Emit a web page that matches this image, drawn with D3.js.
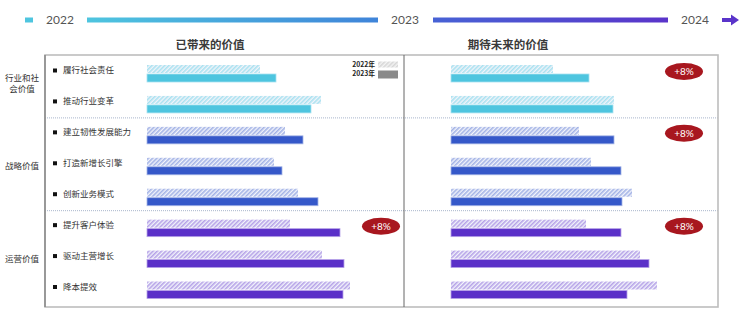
<!DOCTYPE html>
<html>
<head>
<meta charset="utf-8">
<script src="https://cdn.jsdelivr.net/npm/d3@7/dist/d3.min.js"></script>
<style>
  html, body { margin: 0; padding: 0; background: #fff; }
  svg { display: block; }
  text { font-family: "Noto Sans CJK SC", "Noto Sans", sans-serif; }
</style>
</head>
<body>
<script>
// ---- data ----
const years = ["2022", "2023", "2024"];
const panels = ["已带来的价值", "期待未来的价值"];
const groups = [
  { name: ["行业和社", "会价值"], color: "#4ec5df", light: "#a9e2f0" },
  { name: ["战略价值"], color: "#3558c9", light: "#a3b3e6" },
  { name: ["运营价值"], color: "#5a30c8", light: "#b6a2e8" }
];
const categories = ["履行社会责任", "推动行业变革", "建立韧性发展能力", "打造新增长引擎",
                    "创新业务模式", "提升客户体验", "驱动主营增长", "降本提效"];
const categoryGroup = [0, 0, 1, 1, 1, 2, 2, 2];
// share of respondents (%), 2022 vs 2023, per panel
const realized2022 = [45.2, 69.6, 55.2, 50.8, 60.4, 57.2, 70.0, 81.2];
const realized2023 = [51.6, 65.6, 62.4, 54.0, 68.4, 77.2, 78.8, 78.4];
const expected2022 = [40.8, 65.2, 51.2, 56.0, 72.4, 54.0, 75.6, 82.4];
const expected2023 = [55.2, 64.8, 65.2, 68.0, 68.4, 68.0, 79.2, 70.4];
const legendLabels = ["2022年", "2023年"];
// "+8%" callouts: [panel index, category index]
const badges = [[0, 5], [1, 0], [1, 2], [1, 5]];
const badgeText = "+8%";

const W = 750, H = 325;
const svg = d3.select("body").append("svg").attr("width", W).attr("height", H);
const defs = svg.append("defs");

// hatch patterns per group
groups.forEach((g, i) => {
  const p = defs.append("pattern").attr("id", "hatch" + i)
    .attr("patternUnits", "userSpaceOnUse").attr("width", 3).attr("height", 3)
    .attr("patternTransform", "rotate(45)");
  p.append("rect").attr("width", 3).attr("height", 3).attr("fill", "#f2f4fb");
  p.append("line").attr("x1", 0.8).attr("y1", 0).attr("x2", 0.8).attr("y2", 3)
    .attr("stroke", g.light).attr("stroke-width", 1.6);
});
{
  const p = defs.append("pattern").attr("id", "hatchGray")
    .attr("patternUnits", "userSpaceOnUse").attr("width", 3).attr("height", 3)
    .attr("patternTransform", "rotate(45)");
  p.append("rect").attr("width", 3).attr("height", 3).attr("fill", "#f3f3f3");
  p.append("line").attr("x1", 0.8).attr("y1", 0).attr("x2", 0.8).attr("y2", 3)
    .attr("stroke", "#d3d3d3").attr("stroke-width", 1.4);
}

// ---- timeline ----
const grad1 = defs.append("linearGradient").attr("id", "tl1");
grad1.append("stop").attr("offset", "0%").attr("stop-color", "#4ec5df");
grad1.append("stop").attr("offset", "100%").attr("stop-color", "#3f84d9");
const grad2 = defs.append("linearGradient").attr("id", "tl2");
grad2.append("stop").attr("offset", "0%").attr("stop-color", "#4762d5");
grad2.append("stop").attr("offset", "100%").attr("stop-color", "#5a34ca");

const tlY = 20;
const tl = svg.append("g");
tl.append("rect").attr("x", 25).attr("y", tlY - 2.5).attr("width", 8).attr("height", 5).attr("fill", "#4ec5df");
const yearX = d3.scaleOrdinal().domain(years).range([60, 405, 695]);
tl.selectAll("text.year").data(years).join("text").attr("class", "year")
  .attr("x", d => yearX(d)).attr("y", tlY).attr("dy", "0.36em")
  .attr("text-anchor", "middle").attr("font-size", 12).attr("fill", "#555")
  .style("font-family", "Lato, 'Open Sans', sans-serif").text(d => d);
tl.append("rect").attr("x", 87).attr("y", tlY - 2.5).attr("width", 291).attr("height", 5).attr("fill", "url(#tl1)");
tl.append("rect").attr("x", 433).attr("y", tlY - 2.5).attr("width", 235).attr("height", 5).attr("fill", "url(#tl2)");
tl.append("path")
  .attr("d", `M722,${tlY - 2} L731,${tlY - 2} L731,${tlY - 5.5} L739,${tlY} L731,${tlY + 5.5} L731,${tlY + 2} L722,${tlY + 2} Z`)
  .attr("fill", "#5a34ca");

// ---- table frame ----
const box = { x0: 45, x1: 718, y0: 55, y1: 307 };
const midX = 404;
const panelStart = [147, 451];
const x = d3.scaleLinear().domain([0, 100]).range([0, 250]);
const y = d3.scalePoint().domain(categories).range([73.5, 290]);

// panel titles
svg.selectAll("text.ptitle").data(panels).join("text").attr("class", "ptitle")
  .attr("x", (d, i) => i === 0 ? 210 : 508).attr("y", 45).attr("dy", "0.35em")
  .attr("text-anchor", "middle").attr("font-size", 11.5).attr("font-weight", 700)
  .attr("fill", "#3a3a3a").text(d => d);

// group separators (dotted)
const groupRows = groups.map((g, gi) => categories.filter((c, i) => categoryGroup[i] === gi));
for (let gi = 1; gi < groups.length; gi++) {
  const prev = groupRows[gi - 1][groupRows[gi - 1].length - 1];
  const next = groupRows[gi][0];
  const sy = (y(prev) + y(next)) / 2 - 2;
  svg.append("line").attr("x1", box.x0).attr("x2", box.x1).attr("y1", sy).attr("y2", sy)
    .attr("stroke", "#a9b6cc").attr("stroke-width", 1).attr("stroke-dasharray", "1,1");
}

svg.append("rect").attr("x", box.x0).attr("y", box.y0)
  .attr("width", box.x1 - box.x0).attr("height", box.y1 - box.y0)
  .attr("fill", "none").attr("stroke", "#bdbdbd").attr("stroke-width", 1.6);
svg.append("line").attr("x1", box.x0).attr("x2", box.x0).attr("y1", box.y0).attr("y2", box.y1)
  .attr("stroke", "#777").attr("stroke-width", 1.2);
svg.append("line").attr("x1", midX).attr("x2", midX).attr("y1", box.y0).attr("y2", box.y1)
  .attr("stroke", "#666").attr("stroke-width", 1);

// group labels
groups.forEach((g, gi) => {
  const rows = groupRows[gi];
  const mid = (y(rows[0]) + y(rows[rows.length - 1])) / 2;
  const n = g.name.length;
  g.name.forEach((line, li) => {
    svg.append("text").attr("x", 22)
      .attr("y", mid + (li - (n - 1) / 2) * 11.5 - (n > 1 ? 5.5 : 0))
      .attr("dy", "0.35em").attr("text-anchor", "middle")
      .attr("font-size", 8.5).attr("fill", "#333").text(line);
  });
});

// category labels with bullets
const labels = svg.append("g");
labels.selectAll("rect").data(categories).join("rect")
  .attr("x", 53).attr("y", d => y(d) - 5).attr("width", 4).attr("height", 4).attr("fill", "#111");
labels.selectAll("text").data(categories).join("text")
  .attr("x", 63).attr("y", d => y(d) - 3).attr("dy", "0.35em")
  .attr("font-size", 8.5).attr("fill", "#333").text(d => d);

// bars
const panelData = [[realized2022, realized2023], [expected2022, expected2023]];
panelData.forEach((pd, pi) => {
  const g = svg.append("g");
  g.selectAll("rect.h").data(categories).join("rect").attr("class", "h")
    .attr("x", panelStart[pi]).attr("y", d => y(d) - 8.5)
    .attr("width", (d, i) => x(pd[0][i])).attr("height", 8)
    .attr("fill", (d, i) => `url(#hatch${categoryGroup[i]})`);
  g.selectAll("rect.s").data(categories).join("rect").attr("class", "s")
    .attr("x", panelStart[pi]).attr("y", d => y(d) + 0.5)
    .attr("width", (d, i) => x(pd[1][i])).attr("height", 8)
    .attr("fill", (d, i) => groups[categoryGroup[i]].color)
    .attr("stroke", (d, i) => groups[categoryGroup[i]].light).attr("stroke-width", 0.8);
});

// legend
const lg = svg.append("g");
legendLabels.forEach((t, i) => {
  const ly = 65 + i * 9;
  lg.append("text").attr("x", 375).attr("y", ly).attr("dy", "0.35em")
    .attr("text-anchor", "end").attr("font-size", 6.8).attr("font-weight", 700)
    .attr("fill", "#222").text(t);
  lg.append("rect").attr("x", 378).attr("y", ly - 3.5).attr("width", 20).attr("height", i === 0 ? 6 : 8)
    .attr("fill", i === 0 ? "url(#hatchGray)" : "#8a8a8a");
});

// "+8%" badges
const badgeX = [381, 684];
const bg = svg.append("g");
badges.forEach(([pi, ci]) => {
  const cy = y(categories[ci]) - 2;
  bg.append("ellipse").attr("cx", badgeX[pi]).attr("cy", cy).attr("rx", 19).attr("ry", 8.5)
    .attr("fill", "#a8171f");
  bg.append("text").attr("x", badgeX[pi]).attr("y", cy).attr("dy", "0.36em")
    .attr("text-anchor", "middle").attr("font-size", 10).attr("fill", "#fff")
    .style("font-family", "Lato, 'Open Sans', sans-serif").text(badgeText);
});
</script>
</body>
</html>
